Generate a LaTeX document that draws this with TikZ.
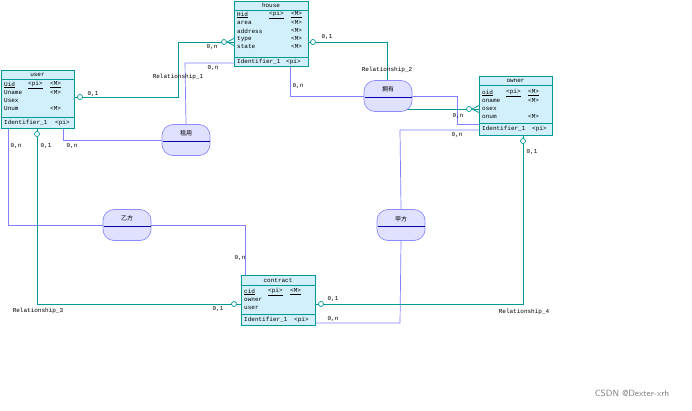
\documentclass[tikz,border=0pt]{standalone}
\usepackage{fontspec}
\setmainfont{Liberation Mono}
\newfontfamily\cjk{Noto Sans CJK SC}
\usetikzlibrary{backgrounds}
\begin{document}
\begin{tikzpicture}[x=1pt,y=-1pt,
 ent/.style={draw=teal!80!cyan,fill=cyan!18,line width=0.9pt,inner sep=0},
 rel/.style={draw=blue!45,fill=blue!12,rounded corners=11pt,line width=0.7pt,minimum width=48pt,minimum height=31pt,inner sep=0},
 tl/.style={draw=teal!80!cyan,line width=0.8pt},
 pl/.style={draw=blue!50,line width=0.7pt},
 relline/.style={draw=blue!70!black,line width=0.9pt},
 lab/.style={font=\fontsize{6}{6}\selectfont,inner sep=0,anchor=west},
 card/.style={font=\fontsize{6}{6}\selectfont,inner sep=0},
 rlab/.style={font=\cjk\fontsize{6}{6}\selectfont,inner sep=0},
 circ/.style={draw=teal!80!cyan,fill=white,line width=0.7pt}]
\useasboundingbox (0,0) rectangle (692,410);
\newcommand{\M}{\textless M\textgreater}
\newcommand{\PI}{\textless pi\textgreater}
% entities
\node[ent,minimum width=74pt,minimum height=65pt,anchor=north west] (house) at (234,1) {};
\draw[teal!80!cyan,line width=0.8pt] (234,10)--(308,10) (234,57)--(308,57);
\node[card] at (271,5.5) {house};
\node[lab] at (237,15) {\underline{Hid}}; \node[lab] at (269,15) {\underline{\PI}}; \node[lab] at (291,15) {\underline{\M}};
\node[lab] at (237,23) {area}; \node[lab] at (291,23) {\M};
\node[lab] at (237,31) {address}; \node[lab] at (291,31) {\M};
\node[lab] at (237,39) {type}; \node[lab] at (291,39) {\M};
\node[lab] at (237,47) {state}; \node[lab] at (291,47) {\M};
\node[lab] at (237,61.5) {Identifier\_1}; \node[lab] at (286,61.5) {\PI};

\node[ent,minimum width=73pt,minimum height=58pt,anchor=north west] (user) at (1,70) {};
\draw[teal!80!cyan,line width=0.8pt] (1,79)--(74,79) (1,117)--(74,117);
\node[card] at (37.5,74.5) {user};
\node[lab] at (4,85) {\underline{Uid}}; \node[lab] at (28,85) {\underline{\PI}}; \node[lab] at (50,85) {\underline{\M}};
\node[lab] at (4,93) {Uname}; \node[lab] at (50,93) {\M};
\node[lab] at (4,101) {Usex};
\node[lab] at (4,109) {Unum}; \node[lab] at (50,109) {\M};
\node[lab] at (4,122.5) {Identifier\_1}; \node[lab] at (55,122.5) {\PI};

\node[ent,minimum width=73pt,minimum height=59pt,anchor=north west] (owner) at (479,76) {};
\draw[teal!80!cyan,line width=0.8pt] (479,85)--(552,85) (479,123)--(552,123);
\node[card] at (515.5,80.5) {owner};
\node[lab] at (482,93) {\underline{oid}}; \node[lab] at (506,93) {\underline{\PI}}; \node[lab] at (528,93) {\underline{\M}};
\node[lab] at (482,101) {oname}; \node[lab] at (528,101) {\M};
\node[lab] at (482,109) {osex};
\node[lab] at (482,117) {onum}; \node[lab] at (528,117) {\M};
\node[lab] at (482,129) {Identifier\_1}; \node[lab] at (532,129) {\PI};

\node[ent,minimum width=74pt,minimum height=50pt,anchor=north west] (contract) at (241,275) {};
\draw[teal!80!cyan,line width=0.8pt] (241,285)--(315,285) (241,314)--(315,314);
\node[card] at (278,280.5) {contract};
\node[lab] at (244,292) {\underline{cid}}; \node[lab] at (268,292) {\underline{\PI}}; \node[lab] at (290,292) {\underline{\M}};
\node[lab] at (244,299.5) {owner};
\node[lab] at (244,308) {user};
\node[lab] at (244,320) {Identifier\_1}; \node[lab] at (294,320) {\PI};

% relationships
\node[rel] (zy) at (186,140) {}; \node[rlab] at (186,133) {租用};
\node[rel] (yy) at (388,96) {}; \node[rlab] at (388,89) {拥有};
\node[rel] (yf) at (127,225) {}; \node[rlab] at (127,218) {乙方};
\node[rel] (jf) at (401,225) {}; \node[rlab] at (401,219) {甲方};
\path[relline] (162.5,141)--(209.5,141);
\path[relline] (364.5,97)--(411.5,97);
\path[relline] (103.5,226)--(150.5,226);
\path[relline] (377.5,226)--(424.5,226);

\begin{scope}[on background layer]
% purple connectors
\draw[pl] (zy.west) -- (63,140) -- (user.south -| 63,0);
\draw[pl] (zy.north) -- (185,63) -- (234,63);
\draw[pl] (house.south -| 290,0) -- (290,96) -- (yy.west);
\draw[pl] (yy.east) -- (457,96) -- (457,124) -- (479,124);
\draw[pl] (jf.north) -- (400,130) -- (479,130);
\draw[pl] (jf.south) -- (400,323) -- (315,323);
\draw[pl] (user.south -| 8,0) -- (8,225) -- (yf.west);
\draw[pl] (yf.east) -- (245,225) -- (contract.north -| 245,0);
% teal connectors
\draw[tl] (74,97) -- (178,97) -- (178,42) -- (234,42);
\draw[tl] (308,42) -- (387,42) -- (387,109) -- (479,109);
\draw[tl] (523,135) -- (523,304) -- (315,304);
\draw[tl] (37,128) -- (37,304) -- (241,304);
\end{scope}
\draw[tl] (227,42)--(234,38.5) (227,42)--(234,45.5);
\draw[circ] (224,42) circle (2.5);
\draw[circ] (80,97) circle (2.5);
\draw[tl] (472,109)--(479,105.5) (472,109)--(479,112.5);
\draw[circ] (313,42) circle (2.5);
\draw[circ] (469,109) circle (2.5);
\draw[circ] (523,141) circle (2.5);
\draw[circ] (321,304) circle (2.5);
\draw[circ] (37,134) circle (2.5);
\draw[circ] (234,304) circle (2.5);

% cardinalities
\node[card] at (93,94) {0,1};
\node[card] at (212,47) {0,n};
\node[card] at (213,68) {0,n};
\node[card] at (327,37) {0,1};
\node[card] at (298,86) {0,n};
\node[card] at (458,116) {0,n};
\node[card] at (457,135) {0,n};
\node[card] at (532,152) {0,1};
\node[card] at (333,299) {0,1};
\node[card] at (333,319) {0,n};
\node[card] at (218,309) {0,1};
\node[card] at (16,146) {0,n};
\node[card] at (46,146) {0,1};
\node[card] at (72,146) {0,n};
\node[card] at (240,258) {0,n};
\node[card] at (178,77) {Relationship\_1};
\node[card] at (387,70) {Relationship\_2};
\node[card] at (38,311) {Relationship\_3};
\node[card] at (524,312) {Relationship\_4};
\node[card,font=\sffamily\fontsize{9}{10}\selectfont,text=gray] at (632,393) {CSDN @Dexter-xrh};
\end{tikzpicture}
\end{document}
